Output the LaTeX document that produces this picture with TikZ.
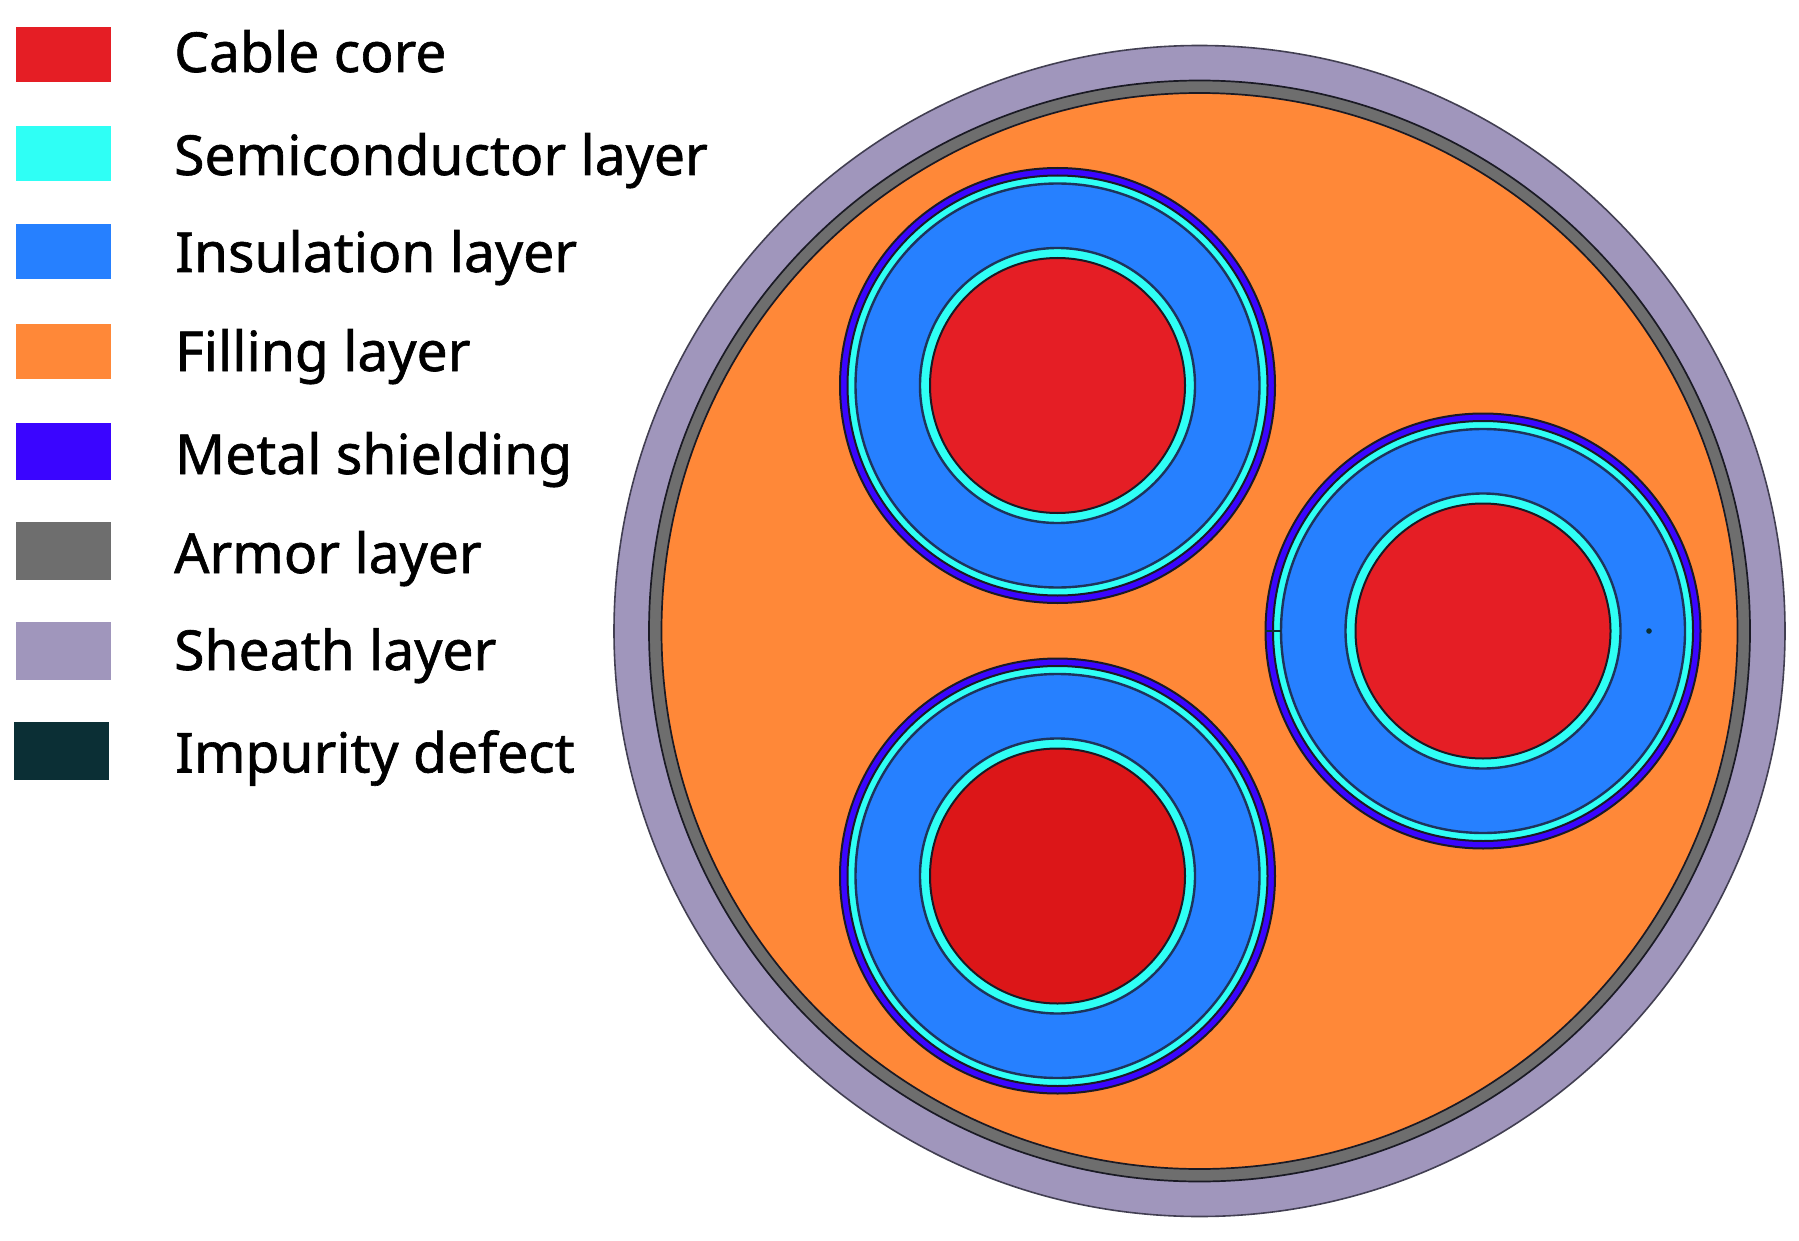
\documentclass[tikz,border=0pt]{standalone}
\usepackage{fontspec}
\setmainfont[FakeBold=1.1]{Noto Sans}
\definecolor{corered}{HTML}{E51E25}
\definecolor{coredark}{HTML}{DC1618}
\definecolor{semicyan}{HTML}{2FFFF5}
\definecolor{insblue}{HTML}{2680FF}
\definecolor{fillorange}{HTML}{FF8838}
\definecolor{metalpurple}{HTML}{3A05FF}
\definecolor{armorgray}{HTML}{6E6E6E}
\definecolor{sheathlilac}{HTML}{A096BC}
\definecolor{defectteal}{HTML}{0B2F35}
\definecolor{edgeline}{HTML}{1A1A24}
\tikzset{
  x=1pt,y=-1pt,
  swatch/.style={minimum width=95pt,minimum height=55pt,inner sep=0,draw=none,outer sep=0,anchor=north west},
  legendtext/.style={anchor=base west,inner sep=0,font=\fontsize{55.2}{60}\selectfont,text=black},
  ring/.style={draw=edgeline,line width=2pt},
  softring/.style={draw=edgeline!75!insblue,line width=2.4pt},
  armorring/.style={draw=edgeline,line width=1.7pt},
}
\newcommand{\cablesection}[3]{%
  \fill[ring,fill=metalpurple] (#1,#2) circle[radius=217.5];
  \fill[ring,fill=semicyan] (#1,#2) circle[radius=210];
  \fill[softring,fill=insblue] (#1,#2) circle[radius=202];
  \fill[softring,fill=semicyan] (#1,#2) circle[radius=137.5];
  \fill[ring,fill=#3] (#1,#2) circle[radius=127.5];
}
\begin{document}
\begin{tikzpicture}
\useasboundingbox (0,0) rectangle (1799,1241);
\fill[white] (0,0) rectangle (1799,1241);
% legend
\node[swatch,fill=corered] (s1) at (16,27) {};
\node[swatch,fill=semicyan] (s2) at (16,126) {};
\node[swatch,fill=insblue] (s3) at (16,224) {};
\node[swatch,fill=fillorange] (s4) at (16,324) {};
\node[swatch,fill=metalpurple,minimum height=57pt] (s5) at (16,423) {};
\node[swatch,fill=armorgray,minimum height=58pt] (s6) at (16,522) {};
\node[swatch,fill=sheathlilac,minimum height=58pt] (s7) at (16,622) {};
\node[swatch,fill=defectteal,minimum height=58pt] (s8) at (13.5,722) {};
\node[legendtext] (t1) at (174,72) {Cable core};
\node[legendtext] (t2) at (174,175) {Semiconductor layer};
\node[legendtext] (t3) at (175,272) {Insulation layer};
\node[legendtext] (t4) at (175,371) {Filling layer};
\node[legendtext] (t5) at (175,474) {Metal shielding};
\node[legendtext] (t6) at (174,573) {Armor layer};
\node[legendtext] (t7) at (174,670) {Sheath layer};
\node[legendtext] (t8) at (175,772.5) {Impurity defect};
% cable body
\fill[draw=edgeline!70!sheathlilac,line width=1.6pt,fill=sheathlilac] (1199.5,631) circle[radius=585.5];
\fill[armorring,fill=armorgray] (1199.5,631) circle[radius=550.5];
\fill[armorring,fill=fillorange] (1199.5,631) circle[radius=538];
% three cores
\cablesection{1057.5}{385.5}{corered}
\cablesection{1483}{631}{corered}
\cablesection{1057.5}{876}{coredark}
% impurity defects
\draw[defectteal,line width=2.2pt] (1265,631) -- (1281,631);
\fill[defectteal] (1649,631) circle[radius=2.8];
\end{tikzpicture}
\end{document}
